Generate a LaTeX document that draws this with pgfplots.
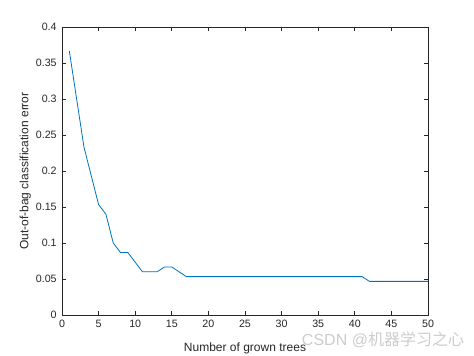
\documentclass[border=0pt]{standalone}
\usepackage{pgfplots}
\pgfplotsset{compat=1.18}
\usepackage{fontspec}
\setmainfont{Liberation Sans}
\newfontfamily\cjk{Noto Sans CJK SC}
\definecolor{mlblue}{rgb}{0,0.447,0.741}
\definecolor{axgray}{rgb}{0.15,0.15,0.15}
\begin{document}
\begin{tikzpicture}[x=0.75pt,y=0.75pt]
\useasboundingbox (-62,-40) rectangle (412,315);
\begin{axis}[
  at={(0,0)}, anchor=origin,
  scale only axis,
  width=274.5pt, height=216pt,
  xmin=0, xmax=50, ymin=0, ymax=0.4,
  xtick={0,5,...,50},
  ytick={0,0.05,...,0.4},
  yticklabels={0,0.05,0.1,0.15,0.2,0.25,0.3,0.35,0.4},
  scaled y ticks=false,
  tick align=inside,
  major tick length=3pt,
  axis line style={axgray, line width=0.5pt},
  every tick/.style={axgray, line width=0.5pt},
  tick label style={font=\fontsize{8}{9.5}\selectfont, text=axgray},
  label style={font=\fontsize{9}{11}\selectfont, text=axgray},
  /pgf/number format/assume math mode=true,
  xticklabel style={yshift=-0.5pt},
  yticklabel style={xshift=-0.5pt},
  xlabel={Number of grown trees},
  ylabel={Out-of-bag classification error},
  xlabel style={at={(axis description cs:0.5,0)}, anchor=center, yshift=-24.75pt},
  ylabel style={at={(axis description cs:0,0.5)}, anchor=center, xshift=0pt, yshift=27.5pt},
]
\addplot[mlblue, line width=0.6pt] coordinates {
(1,0.3667) (2,0.3) (3,0.2333) (4,0.1933) (5,0.1533) (6,0.14) (7,0.1)
(8,0.0867) (9,0.0867) (10,0.0733) (11,0.06) (12,0.06) (13,0.06)
(14,0.0667) (15,0.0667) (16,0.06) (17,0.0533) (18,0.0533) (20,0.0533)
(25,0.0533) (30,0.0533) (35,0.0533) (40,0.0533) (41,0.0533)
(42,0.0467) (45,0.0467) (50,0.0467)
};
\end{axis}
\node[anchor=center, text=black!20, font=\fontsize{12}{14}\selectfont, inner sep=0pt] at (321,-25) {CSDN @\cjk 机器学习之心};
\end{tikzpicture}
\end{document}
